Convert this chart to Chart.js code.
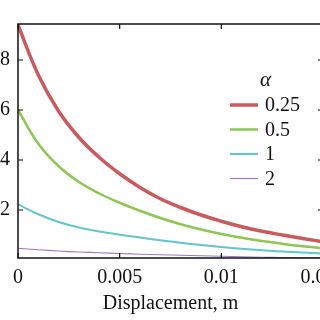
<!DOCTYPE html>
<html>
<head>
<meta charset="utf-8">
<script src="https://cdn.jsdelivr.net/npm/chart.js@4.4.1/dist/chart.umd.min.js"></script>
<style>
  html, body { margin: 0; padding: 0; background: #fff; overflow: hidden; }
  #wrap { position: absolute; left: -22px; top: 0; width: 345px; height: 320px; }
</style>
</head>
<body>
<div id="wrap"><canvas id="plot"></canvas></div>
<script>
// displacement, m
const xValues = [0, 0.001, 0.002, 0.003, 0.004, 0.005, 0.006, 0.007, 0.008, 0.009, 0.010, 0.011, 0.012, 0.013, 0.014, 0.015];
const alphaLabels = ['0.25', '0.5', '1', '2'];
const seriesA025 = [0.94, 0.74, 0.595, 0.49, 0.41, 0.345, 0.29, 0.245, 0.21, 0.18, 0.155, 0.133, 0.115, 0.1, 0.086, 0.073];
const seriesA05  = [0.60, 0.465, 0.375, 0.312, 0.266, 0.229, 0.197, 0.168, 0.143, 0.122, 0.104, 0.089, 0.076, 0.065, 0.055, 0.047];
const seriesA1   = [0.223, 0.183, 0.152, 0.13, 0.114, 0.101, 0.09, 0.079, 0.069, 0.06, 0.052, 0.045, 0.039, 0.034, 0.03, 0.026];
const seriesA2   = [0.047, 0.041, 0.036, 0.032, 0.029, 0.026, 0.023, 0.021, 0.019, 0.017, 0.015, 0.013, 0.011, 0.01, 0.009, 0.008];
const xTicks = [0, 0.005, 0.01, 0.015];
const yTicks = [0.2, 0.4, 0.6, 0.8];

const colors = ['#c95a5e', '#8dc653', '#62c6cf', '#9a7cc4'];
const widths = [3.5, 2.5, 2, 1.2];
const allSeries = [seriesA025, seriesA05, seriesA1, seriesA2];

const serif = '"Liberation Serif", "DejaVu Serif", serif';

function pairs(ys) {
    return xValues.map(function (x, i) { return { x: x, y: ys[i] }; });
}

// ticks drawn inward on all four sides, plus the frame
const frameTicks = {
    id: 'frameTicks',
    afterDatasetsDraw: function (chart) {
        const ctx = chart.ctx;
        const a = chart.chartArea;
        const xs = chart.scales.x;
        const ys = chart.scales.y;
        const len = 5;
        ctx.save();
        ctx.strokeStyle = '#111';
        ctx.lineWidth = 1.5;
        ctx.strokeRect(a.left, a.top, a.right - a.left, a.bottom - a.top);
        ctx.lineWidth = 1.2;
        ctx.beginPath();
        xTicks.forEach(function (v) {
            const px = xs.getPixelForValue(v);
            ctx.moveTo(px, a.bottom); ctx.lineTo(px, a.bottom - len);
            ctx.moveTo(px, a.top); ctx.lineTo(px, a.top + len);
        });
        yTicks.forEach(function (v) {
            const py = ys.getPixelForValue(v);
            ctx.moveTo(a.left, py); ctx.lineTo(a.left + len, py);
            ctx.moveTo(a.right, py); ctx.lineTo(a.right - len, py);
        });
        ctx.stroke();
        ctx.restore();
    }
};

// legend inside the plot, with the alpha heading
const alphaLegend = {
    id: 'alphaLegend',
    afterDraw: function (chart) {
        const ctx = chart.ctx;
        const x0 = 252; // canvas coords (page x + 22)
        ctx.save();
        ctx.fillStyle = '#111';
        ctx.font = 'italic 21px ' + serif;
        ctx.textBaseline = 'middle';
        ctx.fillText('\u03b1', 282, 80);
        ctx.font = '20px ' + serif;
        chart.data.datasets.forEach(function (ds, i) {
            const y = 105 + i * 24.5;
            ctx.strokeStyle = ds.borderColor;
            ctx.lineWidth = ds.borderWidth;
            ctx.beginPath();
            ctx.moveTo(x0, y);
            ctx.lineTo(x0 + 28, y);
            ctx.stroke();
            ctx.fillStyle = '#111';
            ctx.fillText(ds.label, x0 + 35, y + 1);
        });
        ctx.restore();
    }
};

const ctx = document.getElementById('plot').getContext('2d');
new Chart(ctx, {
    type: 'line',
    data: {
        datasets: allSeries.map(function (s, i) {
            return {
                label: alphaLabels[i],
                data: pairs(s),
                borderColor: colors[i],
                borderWidth: widths[i],
                pointRadius: 0,
                tension: 0.4,
                fill: false
            };
        })
    },
    options: {
        responsive: true,
        maintainAspectRatio: false,
        animation: false,
        layout: { padding: { top: 24, right: 0, left: 0, bottom: 0 } },
        plugins: {
            legend: { display: false },
            tooltip: { enabled: false }
        },
        scales: {
            x: {
                type: 'linear',
                min: 0,
                max: 0.015,
                afterBuildTicks: function (scale) {
                    scale.ticks = xTicks.map(function (v) { return { value: v }; });
                },
                afterFit: function (scale) {
                    scale.height = 62;
                    scale.paddingLeft = 0;
                    scale.paddingRight = 0;
                },
                grid: { display: false, drawTicks: false },
                border: { display: false },
                ticks: {
                    color: '#111',
                    padding: 8,
                    maxRotation: 0,
                    font: { family: serif, size: 20 },
                    callback: function (v) { return String(+v.toFixed(3)); }
                },
                title: {
                    display: true,
                    text: 'Displacement, m',
                    color: '#111',
                    padding: { top: 2 },
                    font: { family: serif, size: 20 }
                }
            },
            y: {
                type: 'linear',
                min: 0.008,
                max: 0.944,
                afterBuildTicks: function (scale) {
                    scale.ticks = yTicks.map(function (v) { return { value: v }; });
                },
                afterFit: function (scale) { scale.width = 40; },
                grid: { display: false, drawTicks: false },
                border: { display: false },
                ticks: {
                    color: '#111',
                    padding: 8,
                    font: { family: serif, size: 20 },
                    callback: function (v) { return String(+v.toFixed(1)); }
                }
            }
        }
    },
    plugins: [frameTicks, alphaLegend]
});
</script>
</body>
</html>
